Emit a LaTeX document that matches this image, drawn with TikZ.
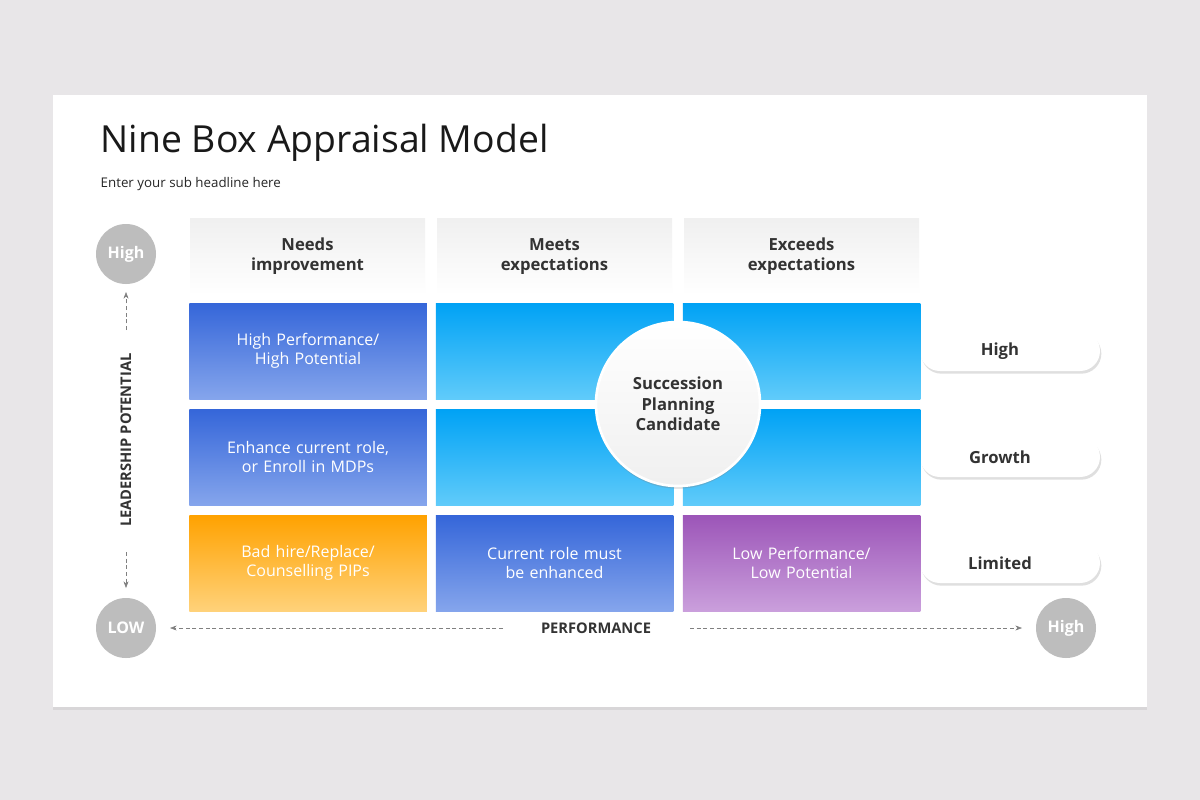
\documentclass[tikz,border=0pt]{standalone}
\usepackage{fontspec}
\setmainfont{Open Sans}
\usetikzlibrary{shadows,arrows.meta}
\definecolor{bg}{HTML}{E8E6E8}
\definecolor{bt}{HTML}{3566D9}\definecolor{bb}{HTML}{85A5EC}
\definecolor{ct}{HTML}{00A2F5}\definecolor{cb}{HTML}{60CBFA}
\definecolor{ot}{HTML}{FFA200}\definecolor{ob}{HTML}{FFD27A}
\definecolor{pt}{HTML}{9C55B8}\definecolor{pb}{HTML}{CA9FDC}
\definecolor{gc}{HTML}{BDBDBD}
\tikzset{
 cell/.style={minimum width=237.5*0.75pt,minimum height=96*0.75pt,inner sep=0pt,align=center,text=white,font=\fontsize{12}{14}\selectfont,text width=150pt},
 hdr/.style={minimum width=235*0.75pt,minimum height=77*0.75pt,inner sep=0pt,align=center,top color=gray!12,bottom color=white,font=\bfseries\fontsize{12.5}{15}\selectfont,text=black!80},
 pill/.style={rounded corners=15pt,minimum width=180*0.75pt,minimum height=40*0.75pt,fill=white,drop shadow={opacity=0.25,shadow xshift=1pt,shadow yshift=-2pt},font=\bfseries\fontsize{12.5}{15}\selectfont,text=black!80},
 gcirc/.style={circle,fill=gc,minimum size=60*0.75pt,inner sep=0pt,text=white,font=\bfseries\fontsize{12}{14}\selectfont},
 darr/.style={densely dashed,gray,-{Stealth[length=5pt]}}
}
\begin{document}
\begin{tikzpicture}[x=0.75pt,y=-0.75pt]
\fill[bg] (0,0) rectangle (1200,800);
\fill[white,drop shadow={opacity=0.15,shadow xshift=0pt,shadow yshift=-2pt}] (53,95) rectangle (1147,707);
\node[anchor=west,font=\fontsize{28}{32}\selectfont,text=black!90] (title) at (96,143) {Nine Box Appraisal Model};
\node[anchor=west,font=\fontsize{10}{12}\selectfont,text=black!85] (sub) at (96,184) {Enter your sub headline here};
\node[hdr] (h1) at (307.5,256.5) {Needs\\improvement};
\node[hdr] (h2) at (554.5,256.5) {Meets\\expectations};
\node[hdr] (h3) at (801.5,256.5) {Exceeds\\expectations};
\node[pill] (p1) at (1010,351) {\hspace*{-15pt}High};
\node[pill] (p2) at (1010,457) {\hspace*{-15pt}Growth};
\node[pill] (p3) at (1010,563) {\hspace*{-15pt}Limited};
\node[cell,top color=bt,bottom color=bb] (c11) at (308,351) {High Performance/ High Potential};
\node[cell,top color=ct,bottom color=cb] (c12) at (554.5,351) {};
\node[cell,top color=ct,bottom color=cb] (c13) at (801.5,351) {};
\node[cell,top color=bt,bottom color=bb] (c21) at (308,457) {Enhance current role, or Enroll in MDPs};
\node[cell,top color=ct,bottom color=cb] (c22) at (554.5,457) {};
\node[cell,top color=ct,bottom color=cb] (c23) at (801.5,457) {};
\node[cell,top color=ot,bottom color=ob] (c31) at (308,563) {Bad hire/Replace/ Counselling PIPs};
\node[cell,top color=bt,bottom color=bb] (c32) at (554.5,563) {Current role must be enhanced};
\node[cell,top color=pt,bottom color=pb] (c33) at (801.5,563) {Low Performance/ Low Potential};
\node[circle,minimum size=164*0.75pt,inner sep=0pt,draw=white,line width=2pt,top color=white,bottom color=gray!12,drop shadow={opacity=0.3,shadow xshift=0pt,shadow yshift=-2pt},align=center,font=\bfseries\fontsize{12.5}{15.5}\selectfont,text=black!80] (sp) at (678,404) {Succession\\Planning\\Candidate};
\node[gcirc] (hi) at (126,254) {High};
\node[gcirc] (lo) at (126,628) {LOW};
\node[gcirc] (hi2) at (1066,628) {High};
\node[rotate=90,font=\bfseries\fontsize{11}{13}\selectfont,text=black!80] (lp) at (126,440) {LEADERSHIP POTENTIAL};
\node[font=\bfseries\fontsize{11}{13}\selectfont,text=black!80] (perf) at (596,628) {PERFORMANCE};
\coordinate (a1) at (126,330); \coordinate (a2) at (126,292);
\coordinate (a3) at (126,552); \coordinate (a4) at (126,588);
\coordinate (b1) at (503,628); \coordinate (b2) at (170,628);
\coordinate (b3) at (690,628); \coordinate (b4) at (1022,628);
\draw[darr] (a1)--(a2); \draw[darr] (a3)--(a4);
\draw[darr] (b1)--(b2); \draw[darr] (b3)--(b4);
\end{tikzpicture}
\end{document}
